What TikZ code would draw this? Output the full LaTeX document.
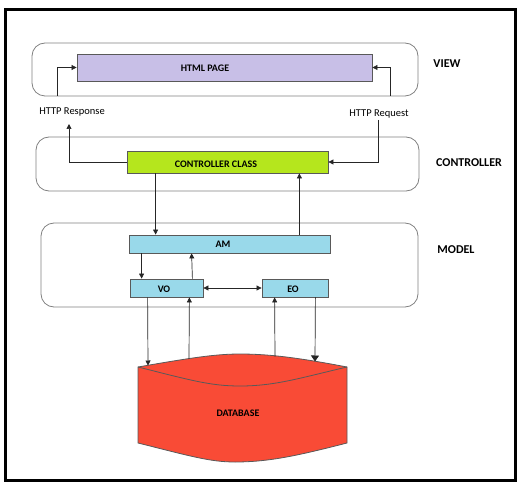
\documentclass[tikz,border=0pt]{standalone}
\usepackage{fontspec}
\setmainfont{Carlito}
\usetikzlibrary{arrows.meta}
\definecolor{lav}{HTML}{C8BFE7}
\definecolor{lime}{HTML}{B5E61D}
\definecolor{lblue}{HTML}{99D9EA}
\definecolor{dbred}{HTML}{F94B36}
\tikzset{
  layerbox/.style={draw=black!50, rounded corners=13pt, line width=0.8pt},
  compbox/.style={draw=black!65, line width=0.8pt, inner sep=0pt, font=\fontsize{10}{12}\selectfont\bfseries},
  layerlabel/.style={font=\fontsize{12}{14}\selectfont\bfseries},
  httplabel/.style={font=\fontsize{10.5}{12}\selectfont, inner sep=1pt},
  conn/.style={draw=black!85, line width=0.7pt},
  arr/.style={conn, -{Triangle[length=5pt,width=5pt]}},
  darr/.style={conn, {Triangle[length=5pt,width=5pt]}-{Triangle[length=5pt,width=5pt]}},
}
\begin{document}
\begin{tikzpicture}[x=1pt,y=-1pt]
\useasboundingbox (0,0) rectangle (521,486);
\draw[line width=3pt] (5.5,9.5) rectangle (515.5,480.5);

% layer boxes
\node[layerbox, minimum width=386pt, minimum height=53pt] (viewbox) at (225,69.5) {};
\node[layerbox, minimum width=383pt, minimum height=54pt] (ctrlbox) at (227.5,164) {};
\node[layerbox, minimum width=377pt, minimum height=84pt] (modelbox) at (229.5,265) {};

% layer labels
\node[layerlabel] (viewlbl) at (447,64) {VIEW};
\node[layerlabel] (ctrllbl) at (469,163) {CONTROLLER};
\node[layerlabel] (modellbl) at (456,250) {MODEL};

% component boxes
\node[compbox, fill=lav, minimum width=295pt, minimum height=27pt,
      label={[compbox, draw=none, xshift=-19.5pt, yshift=-1pt]center:HTML PAGE}] (html) at (224.5,67.5) {};
\node[compbox, fill=lime, minimum width=201pt, minimum height=22pt,
      label={[compbox, draw=none, xshift=-11.5pt, yshift=-2pt]center:CONTROLLER CLASS}] (ctrl) at (227.5,162) {};
\node[compbox, fill=lblue, minimum width=201pt, minimum height=18pt,
      label={[compbox, draw=none, xshift=-6.5pt]center:AM}] (am) at (229.5,244) {};
\node[compbox, fill=lblue, minimum width=73pt, minimum height=18pt,
      label={[compbox, draw=none, xshift=-2.5pt, yshift=-1pt]center:VO}] (vo) at (166.5,288) {};
\node[compbox, fill=lblue, minimum width=66pt, minimum height=18pt,
      label={[compbox, draw=none, xshift=-2pt, yshift=-1pt]center:EO}] (eo) at (295,288) {};

% database
\draw[draw=black!65, fill=dbred, line width=0.8pt]
  (138,367) .. controls (190,358) and (215,354) .. (240,354)
            .. controls (270,354) and (300,358) .. (347,367)
  -- (347,443)
            .. controls (300,455) and (270,462) .. (235,462)
            .. controls (210,462) and (190,456) .. (138,443)
  -- cycle;
\draw[draw=black!65, line width=0.8pt]
  (138,367) .. controls (190,380) and (210,386) .. (240,386)
            .. controls (275,386) and (300,378) .. (347,367);
\node[compbox, draw=none] (db) at (238,413) {DATABASE};

% http labels
\node[httplabel] (resplbl) at (72,112) {HTTP Response};
\node[httplabel] (reqlbl) at (379,114) {HTTP Request};

% named free ends
\coordinate (vl) at (57,96);
\coordinate (vr) at (390,96);
\coordinate (rs) at (69,124);
\coordinate (rq) at (378,120);
\coordinate (dbA) at (148,365.5);
\coordinate (dbB) at (189,358.5);
\coordinate (dbC) at (275,356.5);
\coordinate (dbD) at (315,361.5);

% connectors
\draw[arr] (vl) |- (html.west);
\draw[arr] (vr) |- (html.east);
\draw[arr] (ctrl.west) -| (rs);
\draw[arr] (rq) |- (ctrl.east);
\draw[arr] ([xshift=29pt]ctrl.south west) -- ([xshift=27pt]am.north west);
\draw[arr] ([xshift=-31pt]am.north east) -- ([xshift=-29pt]ctrl.south east);
\draw[arr] ([xshift=13pt]am.south west) -- ([xshift=12pt]vo.north west);
\draw[arr] ([xshift=-11pt]vo.north east) -- ([xshift=63pt]am.south west);
\draw[darr] (vo.east) -- (eo.west);
\draw[arr] ([xshift=18pt]vo.south west) -- (dbA);
\draw[arr] (dbB) -- ([xshift=-14pt]vo.south east);
\draw[arr] (dbC) -- ([xshift=13pt]eo.south west);
\draw[conn, -{Triangle[length=6pt,width=8pt]}] ([xshift=-13pt]eo.south east) -- (dbD);
\end{tikzpicture}
\end{document}
